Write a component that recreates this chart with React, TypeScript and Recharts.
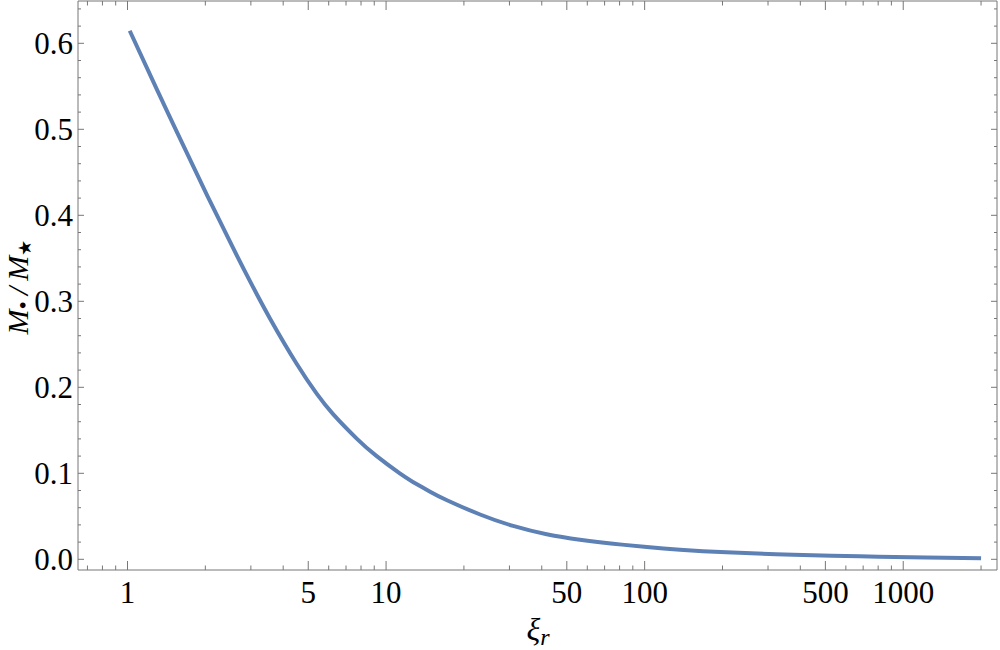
import React from 'react';
import { LineChart, Line, XAxis, YAxis } from 'recharts';

// Data
const xiValues = [1.02, 1.3, 1.56, 2.0, 2.58, 3.0, 3.56, 4.51, 5.39, 6.25, 7.7, 9.2, 11.3, 12.7, 14.8, 17.2, 23.1, 31, 41.8, 56.2, 75.6, 102, 137, 207, 376, 680, 1230, 2000];
const massRatio = [0.6146, 0.5462, 0.4955, 0.4275, 0.36, 0.3214, 0.2798, 0.2274, 0.1926, 0.1685, 0.1404, 0.1199, 0.0998, 0.09, 0.0786, 0.0687, 0.0521, 0.0388, 0.0291, 0.0227, 0.0181, 0.0143, 0.0112, 0.0081, 0.0054, 0.0035, 0.0022, 0.0012];

// Tick values
const xMajorTicks = [1, 5, 10, 50, 100, 500, 1000];
const xMinorTicks = [0.7, 0.8, 0.9, 2, 3, 4, 6, 7, 8, 9, 20, 30, 40, 60, 70, 80, 90, 200, 300, 400, 600, 700, 800, 900, 2000];
const yMajorTicks = [0, 0.1, 0.2, 0.3, 0.4, 0.5, 0.6];
const yMinorTicks = [0.02, 0.04, 0.06, 0.08, 0.12, 0.14, 0.16, 0.18, 0.22, 0.24, 0.26, 0.28, 0.32, 0.34, 0.36, 0.38, 0.42, 0.44, 0.46, 0.48, 0.52, 0.54, 0.56, 0.58, 0.62, 0.64];

const xDomain = [0.6435, 2305];
const yDomain = [-0.01244, 0.6492];

const data = xiValues.map((x, i) => ({ x, y: massRatio[i] }));
const xAllTicks = [...xMinorTicks, ...xMajorTicks].sort((a, b) => a - b);
const yAllTicks = [...yMinorTicks, ...yMajorTicks].sort((a, b) => a - b);

const FRAME = '#777777';
const LINE = '#5E81B5';
const SERIF = '"Liberation Serif", "Times New Roman", serif';

const isMajorX = (v: number) => xMajorTicks.some((t) => Math.abs(t - v) < 1e-9);
const isMajorY = (v: number) => yMajorTicks.some((t) => Math.abs(t - v) < 1e-9);

const BottomTick = (props: any) => {
  const { x, y, payload } = props;
  const major = isMajorX(payload.value);
  return (
    <g>
      <line x1={x} x2={x} y1={y} y2={y - (major ? 9 : 4.5)} stroke={FRAME} strokeWidth={1} />
      {major && (
        <text x={x} y={y + 33} textAnchor="middle" fontFamily={SERIF} fontSize={31} fill="#000">
          {String(payload.value)}
        </text>
      )}
    </g>
  );
};

const TopTick = (props: any) => {
  const { x, y, payload } = props;
  const major = isMajorX(payload.value);
  return <line x1={x} x2={x} y1={y} y2={y + (major ? 9 : 4.5)} stroke={FRAME} strokeWidth={1} />;
};

const LeftTick = (props: any) => {
  const { x, y, payload } = props;
  const major = isMajorY(payload.value);
  return (
    <g>
      <line x1={x} x2={x + (major ? 6 : 3)} y1={y} y2={y} stroke={FRAME} strokeWidth={1} />
      {major && (
        <text x={x - 5} y={y + 10.5} textAnchor="end" fontFamily={SERIF} fontSize={31} fill="#000">
          {Number(payload.value).toFixed(1)}
        </text>
      )}
    </g>
  );
};

const RightTick = (props: any) => {
  const { x, y, payload } = props;
  const major = isMajorY(payload.value);
  return <line x1={x} x2={x - (major ? 6 : 3)} y1={y} y2={y} stroke={FRAME} strokeWidth={1} />;
};

const XiLabel = () => (
  <text x={538} y={640} textAnchor="middle" fontFamily={SERIF} fontSize={32} fontStyle="italic" fill="#000">
    <tspan>ξ</tspan>
    <tspan fontSize={24} dy={5}>r</tspan>
  </text>
);

const MassLabel = () => {
  const cx = 28;
  const cy = 287;
  return (
    <text
      x={cx}
      y={cy}
      transform={`rotate(-90 ${cx} ${cy})`}
      textAnchor="middle"
      fontFamily={SERIF}
      fontSize={30}
      fontStyle="italic"
      fill="#000"
      style={{ whiteSpace: 'pre' }}
    >
      <tspan>M</tspan>
      <tspan fontSize={24} fontStyle="normal" dy={3}>•</tspan>
      <tspan dy={-3}>{'\u2009/\u2009'}</tspan>
      <tspan>M</tspan>
      <tspan fontSize={18} fontStyle="normal" dy={3}>★</tspan>
    </text>
  );
};

export default function App() {
  return (
    <div style={{ position: 'absolute', left: 0, top: 0, width: 1000, height: 650, background: '#fff' }}>
      <LineChart width={1000} height={650} data={data} margin={{ top: 0, right: 0, bottom: 0, left: 0 }}>
        <XAxis
          xAxisId="bottom"
          dataKey="x"
          type="number"
          scale="log"
          domain={xDomain}
          allowDataOverflow
          ticks={xAllTicks}
          interval={0}
          orientation="bottom"
          height={80}
          tickSize={0}
          tickMargin={0}
          tickLine={false}
          axisLine={{ stroke: FRAME, strokeWidth: 1 }}
          tick={<BottomTick />}
          label={{ content: () => <XiLabel /> }}
        />
        <XAxis
          xAxisId="top"
          dataKey="x"
          type="number"
          scale="log"
          domain={xDomain}
          allowDataOverflow
          ticks={xAllTicks}
          interval={0}
          orientation="top"
          height={1}
          tickSize={0}
          tickMargin={0}
          tickLine={false}
          axisLine={{ stroke: FRAME, strokeWidth: 1 }}
          tick={<TopTick />}
        />
        <YAxis
          yAxisId="left"
          dataKey="y"
          type="number"
          domain={yDomain}
          allowDataOverflow
          ticks={yAllTicks}
          interval={0}
          orientation="left"
          width={78}
          tickSize={0}
          tickMargin={0}
          tickLine={false}
          axisLine={{ stroke: FRAME, strokeWidth: 1 }}
          tick={<LeftTick />}
          label={{ content: () => <MassLabel /> }}
        />
        <YAxis
          yAxisId="right"
          type="number"
          domain={yDomain}
          allowDataOverflow
          ticks={yAllTicks}
          interval={0}
          orientation="right"
          width={3}
          tickSize={0}
          tickMargin={0}
          tickLine={false}
          axisLine={{ stroke: FRAME, strokeWidth: 1 }}
          tick={<RightTick />}
        />
        <Line
          xAxisId="bottom"
          yAxisId="left"
          dataKey="y"
          type="natural"
          stroke={LINE}
          strokeWidth={4}
          dot={false}
          activeDot={false}
          isAnimationActive={false}
        />
      </LineChart>
    </div>
  );
}
